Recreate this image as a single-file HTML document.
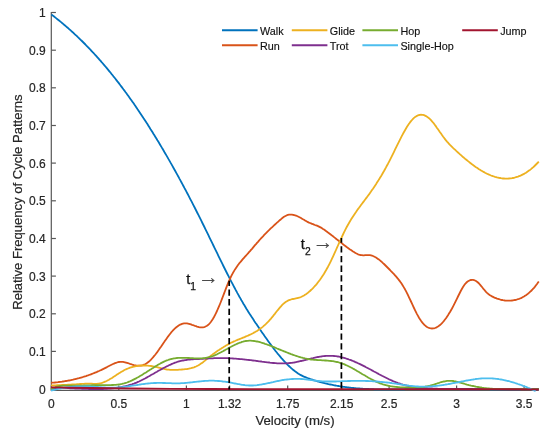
<!DOCTYPE html>
<html lang="en"><head><meta charset="utf-8"><title>Relative Frequency of Cycle Patterns</title>
<style>html,body{margin:0;padding:0;background:#fff}svg{display:block}</style></head>
<body>
<svg width="550" height="437" viewBox="0 0 550 437">
<rect width="550" height="437" fill="#fff"/>
<g stroke="#585858" stroke-width="1.2" fill="none">
<path d="M51.3 12.0 V390.3 H538.8"/>
<path d="M51.3 390.3 v-4.8"/>
<path d="M118.8 390.3 v-4.8"/>
<path d="M186.4 390.3 v-4.8"/>
<path d="M229.6 390.3 v-4.8"/>
<path d="M287.7 390.3 v-4.8"/>
<path d="M341.8 390.3 v-4.8"/>
<path d="M389.1 390.3 v-4.8"/>
<path d="M456.6 390.3 v-4.8"/>
<path d="M524.1 390.3 v-4.8"/>
<path d="M51.3 389.1 h4.6"/>
<path d="M51.3 351.4 h4.6"/>
<path d="M51.3 313.8 h4.6"/>
<path d="M51.3 276.1 h4.6"/>
<path d="M51.3 238.5 h4.6"/>
<path d="M51.3 200.8 h4.6"/>
<path d="M51.3 163.1 h4.6"/>
<path d="M51.3 125.5 h4.6"/>
<path d="M51.3 87.8 h4.6"/>
<path d="M51.3 50.2 h4.6"/>
<path d="M51.3 12.5 h4.6"/>
</g>
<g font-family="'Liberation Sans', Arial, Helvetica, sans-serif" fill="#262626" stroke="#262626" stroke-width="0.2" font-size="12">
<text x="51.3" y="408.2" text-anchor="middle">0</text>
<text x="118.8" y="408.2" text-anchor="middle">0.5</text>
<text x="186.4" y="408.2" text-anchor="middle">1</text>
<text x="229.6" y="408.2" text-anchor="middle">1.32</text>
<text x="287.7" y="408.2" text-anchor="middle">1.75</text>
<text x="341.8" y="408.2" text-anchor="middle">2.15</text>
<text x="389.1" y="408.2" text-anchor="middle">2.5</text>
<text x="456.6" y="408.2" text-anchor="middle">3</text>
<text x="524.1" y="408.2" text-anchor="middle">3.5</text>
<text x="45.7" y="393.7" text-anchor="end">0</text>
<text x="45.7" y="356.0" text-anchor="end">0.1</text>
<text x="45.7" y="318.4" text-anchor="end">0.2</text>
<text x="45.7" y="280.7" text-anchor="end">0.3</text>
<text x="45.7" y="243.1" text-anchor="end">0.4</text>
<text x="45.7" y="205.4" text-anchor="end">0.5</text>
<text x="45.7" y="167.7" text-anchor="end">0.6</text>
<text x="45.7" y="130.1" text-anchor="end">0.7</text>
<text x="45.7" y="92.4" text-anchor="end">0.8</text>
<text x="45.7" y="54.8" text-anchor="end">0.9</text>
<text x="45.7" y="17.1" text-anchor="end">1</text>
</g>
<g font-family="'Liberation Sans', Arial, Helvetica, sans-serif" fill="#262626" stroke="#262626" stroke-width="0.2" font-size="13.2">
<text x="295" y="425.3" text-anchor="middle">Velocity (m/s)</text>
<text transform="translate(22.3 202.1) rotate(-90)" text-anchor="middle" font-size="13.05">Relative Frequency of Cycle Patterns</text>
</g>
<g fill="none" stroke-width="1.8" stroke-linejoin="round" stroke-linecap="butt">
<path d="M51.4 14.5 L52.4 15.3 L53.4 16.0 L54.4 16.8 L55.4 17.6 L56.4 18.4 L57.4 19.2 L58.4 20.0 L59.4 20.8 L60.4 21.6 L61.4 22.4 L62.4 23.3 L63.4 24.1 L64.4 25.0 L65.4 25.8 L66.4 26.7 L67.4 27.5 L68.4 28.4 L69.4 29.3 L70.4 30.2 L71.4 31.1 L72.4 32.0 L73.4 32.9 L74.4 33.9 L75.4 34.8 L76.4 35.7 L77.4 36.7 L78.4 37.6 L79.4 38.6 L80.4 39.6 L81.4 40.5 L82.4 41.5 L83.4 42.5 L84.4 43.5 L85.4 44.5 L86.4 45.6 L87.4 46.6 L88.4 47.6 L89.4 48.7 L90.4 49.7 L91.4 50.8 L92.4 51.9 L93.4 52.9 L94.4 54.0 L95.4 55.1 L96.4 56.2 L97.4 57.3 L98.4 58.4 L99.4 59.6 L100.4 60.7 L101.4 61.9 L102.4 63.0 L103.4 64.2 L104.4 65.3 L105.4 66.5 L106.4 67.7 L107.4 68.9 L108.4 70.1 L109.4 71.3 L110.4 72.5 L111.4 73.8 L112.4 75.0 L113.4 76.3 L114.4 77.5 L115.4 78.8 L116.4 80.1 L117.4 81.4 L118.4 82.6 L119.4 83.9 L120.4 85.3 L121.4 86.6 L122.4 87.9 L123.4 89.3 L124.4 90.6 L125.4 92.0 L126.4 93.3 L127.4 94.7 L128.4 96.1 L129.4 97.5 L130.4 98.9 L131.4 100.3 L132.4 101.7 L133.4 103.1 L134.4 104.6 L135.4 106.0 L136.4 107.5 L137.4 109.0 L138.4 110.4 L139.4 111.9 L140.4 113.4 L141.4 114.9 L142.4 116.4 L143.4 118.0 L144.4 119.5 L145.4 121.0 L146.4 122.6 L147.4 124.1 L148.4 125.7 L149.4 127.3 L150.4 128.9 L151.4 130.4 L152.4 132.0 L153.4 133.7 L154.4 135.3 L155.4 136.9 L156.4 138.5 L157.4 140.2 L158.4 141.8 L159.4 143.5 L160.4 145.2 L161.4 146.9 L162.4 148.6 L163.4 150.2 L164.4 152.0 L165.4 153.7 L166.4 155.4 L167.4 157.1 L168.4 158.9 L169.4 160.6 L170.4 162.4 L171.4 164.1 L172.4 165.9 L173.4 167.7 L174.4 169.5 L175.4 171.3 L176.4 173.1 L177.4 174.9 L178.4 176.7 L179.4 178.6 L180.4 180.4 L181.4 182.3 L182.4 184.1 L183.4 186.0 L184.4 187.9 L185.4 189.7 L186.4 191.6 L187.4 193.5 L188.4 195.4 L189.4 197.3 L190.4 199.3 L191.4 201.2 L192.4 203.1 L193.4 205.1 L194.4 207.0 L195.4 209.0 L196.4 211.0 L197.4 213.0 L198.4 214.9 L199.4 216.9 L200.4 218.9 L201.4 220.9 L202.4 223.0 L203.4 225.0 L204.4 227.0 L205.4 229.1 L206.4 231.1 L207.4 233.1 L208.4 235.2 L209.4 237.3 L210.4 239.3 L211.4 241.4 L212.4 243.4 L213.4 245.5 L214.4 247.6 L215.4 249.6 L216.4 251.7 L217.4 253.7 L218.4 255.8 L219.4 257.8 L220.4 259.9 L221.4 261.9 L222.4 263.9 L223.4 266.0 L224.4 268.0 L225.4 270.0 L226.4 272.0 L227.4 274.0 L228.4 275.9 L229.4 277.9 L230.4 279.8 L231.4 281.8 L232.4 283.7 L233.4 285.6 L234.4 287.5 L235.4 289.4 L236.4 291.2 L237.4 293.1 L238.4 294.9 L239.4 296.7 L240.4 298.4 L241.4 300.2 L242.4 301.9 L243.4 303.7 L244.4 305.3 L245.4 307.0 L246.4 308.7 L247.4 310.3 L248.4 311.9 L249.4 313.5 L250.4 315.0 L251.4 316.6 L252.4 318.1 L253.4 319.6 L254.4 321.2 L255.4 322.7 L256.4 324.1 L257.4 325.6 L258.4 327.1 L259.4 328.6 L260.4 330.0 L261.4 331.5 L262.4 332.9 L263.4 334.3 L264.4 335.8 L265.4 337.2 L266.4 338.6 L267.4 340.0 L268.4 341.4 L269.4 342.8 L270.4 344.1 L271.4 345.5 L272.4 346.8 L273.4 348.2 L274.4 349.5 L275.4 350.8 L276.4 352.0 L277.4 353.3 L278.4 354.5 L279.4 355.7 L280.4 356.9 L281.4 358.1 L282.4 359.2 L283.4 360.3 L284.4 361.4 L285.4 362.5 L286.4 363.5 L287.4 364.6 L288.4 365.5 L289.4 366.5 L290.4 367.4 L291.4 368.3 L292.4 369.2 L293.4 370.0 L294.4 370.8 L295.4 371.6 L296.4 372.3 L297.4 373.0 L298.4 373.7 L299.4 374.3 L300.4 374.9 L301.4 375.4 L302.4 375.9 L303.4 376.4 L304.4 376.8 L305.4 377.2 L306.4 377.6 L307.4 378.0 L308.4 378.4 L309.4 378.7 L310.4 379.1 L311.4 379.4 L312.4 379.7 L313.4 380.0 L314.4 380.4 L315.4 380.7 L316.4 381.0 L317.4 381.3 L318.4 381.5 L319.4 381.8 L320.4 382.1 L321.4 382.4 L322.4 382.6 L323.4 382.9 L324.4 383.1 L325.4 383.4 L326.4 383.6 L327.4 383.8 L328.4 384.1 L329.4 384.3 L330.4 384.5 L331.4 384.7 L332.4 384.9 L333.4 385.1 L334.4 385.3 L335.4 385.5 L336.4 385.7 L337.4 385.8 L338.4 386.0 L339.4 386.2 L340.4 386.3 L341.4 386.5 L342.4 386.6 L343.4 386.8 L344.4 386.9 L345.4 387.1 L346.4 387.2 L347.4 387.3 L348.4 387.4 L349.4 387.6 L350.4 387.7 L351.4 387.8 L352.4 387.9 L353.4 388.0 L354.4 388.1 L355.4 388.2 L356.4 388.3 L357.4 388.3 L358.4 388.4 L359.4 388.5 L360.4 388.6 L361.4 388.7 L362.4 388.7 L363.4 388.8 L364.4 388.8 L365.4 388.9 L366.4 389.0 L367.4 389.0 L368.4 389.0 L369.4 389.1 L370.4 389.1 L371.4 389.2 L372.4 389.2 L373.4 389.2 L374.4 389.3 L375.4 389.3 L376.4 389.3 L377.4 389.3 L378.4 389.4 L379.4 389.4 L380.4 389.4 L381.4 389.4 L382.4 389.4 L383.4 389.4 L384.4 389.4 L385.4 389.4 L386.4 389.4 L387.4 389.4 L388.4 389.4 L389.4 389.4 L390.4 389.4 L391.4 389.4 L392.4 389.4 L393.4 389.4 L394.4 389.4 L395.4 389.4 L396.4 389.4 L397.4 389.4 L398.4 389.4 L399.4 389.3 L400.4 389.3 L401.4 389.3 L402.4 389.3 L403.4 389.3 L404.4 389.3 L405.4 389.2 L406.4 389.2 L407.4 389.2 L408.4 389.2 L409.4 389.2 L410.4 389.1 L411.4 389.1 L412.4 389.1 L413.4 389.1 L414.4 389.1 L415.4 389.0 L416.4 389.0 L417.4 389.0 L418.4 389.0 L419.4 389.0 L420.4 388.9 L421.4 388.9 L422.4 388.9 L423.4 388.9 L424.4 388.9 L425.4 388.9 L426.4 388.8 L427.4 388.8 L428.4 388.8 L429.4 388.8 L430.4 388.8 L431.4 388.8 L432.4 388.8 L433.4 388.8 L434.4 388.8 L435.4 388.8 L436.4 388.8 L437.4 388.8 L438.4 388.8 L439.4 388.8 L440.4 388.8 L441.4 388.8 L442.4 388.8 L443.4 388.8 L444.4 388.8 L445.4 388.8 L446.4 388.8 L447.4 388.8 L448.4 388.8 L449.4 388.8 L450.4 388.8 L451.4 388.8 L452.4 388.8 L453.4 388.8 L454.4 388.8 L455.4 388.8 L456.4 388.8 L457.4 388.9 L458.4 388.9 L459.4 388.9 L460.4 388.9 L461.4 388.9 L462.4 388.9 L463.4 388.9 L464.4 388.9 L465.4 388.9 L466.4 389.0 L467.4 389.0 L468.4 389.0 L469.4 389.0 L470.4 389.0 L471.4 389.0 L472.4 389.0 L473.4 389.1 L474.4 389.1 L475.4 389.1 L476.4 389.1 L477.4 389.1 L478.4 389.1 L479.4 389.1 L480.4 389.1 L481.4 389.2 L482.4 389.2 L483.4 389.2 L484.4 389.2 L485.4 389.2 L486.4 389.2 L487.4 389.2 L488.4 389.2 L489.4 389.2 L490.4 389.3 L491.4 389.3 L492.4 389.3 L493.4 389.3 L494.4 389.3 L495.4 389.3 L496.4 389.3 L497.4 389.3 L498.4 389.3 L499.4 389.3 L500.4 389.3 L501.4 389.3 L502.4 389.3 L503.4 389.3 L504.4 389.3 L505.4 389.3 L506.4 389.3 L507.4 389.3 L508.4 389.3 L509.4 389.3 L510.4 389.3 L511.4 389.3 L512.4 389.3 L513.4 389.3 L514.4 389.3 L515.4 389.3 L516.4 389.3 L517.4 389.3 L518.4 389.3 L519.4 389.3 L520.4 389.3 L521.4 389.2 L522.4 389.2 L523.4 389.2 L524.4 389.2 L525.4 389.2 L526.4 389.2 L527.4 389.1 L528.4 389.1 L529.4 389.1 L530.4 389.1 L531.4 389.0 L532.4 389.0 L533.4 389.0 L534.4 388.9 L535.4 388.9 L536.4 388.9 L537.4 388.8 L538.4 388.8 L538.8 388.8" stroke="#0072BD"/>
<path d="M51.0 382.8 L52.0 382.7 L53.0 382.6 L54.0 382.6 L55.0 382.5 L56.0 382.4 L57.0 382.3 L58.0 382.2 L59.0 382.0 L60.0 381.9 L61.0 381.8 L62.0 381.7 L63.0 381.5 L64.0 381.4 L65.0 381.2 L66.0 381.0 L67.0 380.9 L68.0 380.7 L69.0 380.5 L70.0 380.3 L71.0 380.1 L72.0 379.9 L73.0 379.7 L74.0 379.4 L75.0 379.2 L76.0 379.0 L77.0 378.7 L78.0 378.4 L79.0 378.2 L80.0 377.9 L81.0 377.6 L82.0 377.3 L83.0 377.0 L84.0 376.7 L85.0 376.4 L86.0 376.1 L87.0 375.7 L88.0 375.4 L89.0 375.0 L90.0 374.7 L91.0 374.3 L92.0 373.9 L93.0 373.5 L94.0 373.1 L95.0 372.7 L96.0 372.3 L97.0 371.9 L98.0 371.4 L99.0 371.0 L100.0 370.5 L101.0 370.1 L102.0 369.6 L103.0 369.1 L104.0 368.6 L105.0 368.1 L106.0 367.6 L107.0 367.1 L108.0 366.5 L109.0 366.0 L110.0 365.5 L111.0 365.0 L112.0 364.5 L113.0 364.0 L114.0 363.6 L115.0 363.2 L116.0 362.8 L117.0 362.5 L118.0 362.2 L119.0 362.0 L120.0 361.9 L121.0 361.8 L122.0 361.9 L123.0 361.9 L124.0 362.1 L125.0 362.3 L126.0 362.6 L127.0 362.9 L128.0 363.2 L129.0 363.5 L130.0 363.9 L131.0 364.2 L132.0 364.5 L133.0 364.8 L134.0 365.1 L135.0 365.3 L136.0 365.5 L137.0 365.6 L138.0 365.7 L139.0 365.7 L140.0 365.7 L141.0 365.6 L142.0 365.4 L143.0 365.1 L144.0 364.7 L145.0 364.3 L146.0 363.7 L147.0 363.1 L148.0 362.3 L149.0 361.5 L150.0 360.6 L151.0 359.6 L152.0 358.5 L153.0 357.4 L154.0 356.2 L155.0 355.0 L156.0 353.7 L157.0 352.4 L158.0 351.0 L159.0 349.6 L160.0 348.1 L161.0 346.7 L162.0 345.2 L163.0 343.7 L164.0 342.3 L165.0 340.8 L166.0 339.4 L167.0 338.0 L168.0 336.6 L169.0 335.3 L170.0 334.0 L171.0 332.7 L172.0 331.5 L173.0 330.4 L174.0 329.4 L175.0 328.4 L176.0 327.5 L177.0 326.7 L178.0 326.0 L179.0 325.3 L180.0 324.7 L181.0 324.3 L182.0 323.9 L183.0 323.6 L184.0 323.4 L185.0 323.3 L186.0 323.3 L187.0 323.4 L188.0 323.6 L189.0 323.8 L190.0 324.1 L191.0 324.4 L192.0 324.8 L193.0 325.1 L194.0 325.5 L195.0 325.9 L196.0 326.2 L197.0 326.6 L198.0 326.8 L199.0 327.1 L200.0 327.3 L201.0 327.3 L202.0 327.4 L203.0 327.3 L204.0 327.1 L205.0 326.8 L206.0 326.3 L207.0 325.7 L208.0 325.0 L209.0 324.1 L210.0 323.0 L211.0 321.7 L212.0 320.3 L213.0 318.7 L214.0 317.0 L215.0 315.1 L216.0 313.1 L217.0 311.0 L218.0 308.7 L219.0 306.4 L220.0 304.0 L221.0 301.5 L222.0 298.9 L223.0 296.3 L224.0 293.6 L225.0 291.0 L226.0 288.4 L227.0 285.9 L228.0 283.4 L229.0 281.0 L230.0 278.8 L231.0 276.7 L232.0 274.7 L233.0 272.8 L234.0 271.1 L235.0 269.4 L236.0 267.9 L237.0 266.4 L238.0 265.0 L239.0 263.7 L240.0 262.5 L241.0 261.3 L242.0 260.1 L243.0 258.9 L244.0 257.8 L245.0 256.7 L246.0 255.6 L247.0 254.5 L248.0 253.4 L249.0 252.2 L250.0 251.1 L251.0 249.9 L252.0 248.8 L253.0 247.6 L254.0 246.4 L255.0 245.2 L256.0 244.1 L257.0 242.9 L258.0 241.8 L259.0 240.6 L260.0 239.5 L261.0 238.4 L262.0 237.3 L263.0 236.3 L264.0 235.2 L265.0 234.2 L266.0 233.2 L267.0 232.1 L268.0 231.1 L269.0 230.2 L270.0 229.2 L271.0 228.2 L272.0 227.3 L273.0 226.4 L274.0 225.4 L275.0 224.5 L276.0 223.6 L277.0 222.7 L278.0 221.8 L279.0 220.9 L280.0 220.0 L281.0 219.2 L282.0 218.3 L283.0 217.5 L284.0 216.8 L285.0 216.2 L286.0 215.7 L287.0 215.2 L288.0 214.9 L289.0 214.7 L290.0 214.6 L291.0 214.6 L292.0 214.6 L293.0 214.8 L294.0 215.0 L295.0 215.3 L296.0 215.6 L297.0 216.0 L298.0 216.5 L299.0 217.0 L300.0 217.5 L301.0 218.1 L302.0 218.7 L303.0 219.3 L304.0 219.8 L305.0 220.4 L306.0 221.0 L307.0 221.6 L308.0 222.1 L309.0 222.6 L310.0 223.0 L311.0 223.4 L312.0 223.8 L313.0 224.2 L314.0 224.6 L315.0 225.0 L316.0 225.3 L317.0 225.7 L318.0 226.1 L319.0 226.6 L320.0 227.1 L321.0 227.6 L322.0 228.2 L323.0 228.9 L324.0 229.5 L325.0 230.2 L326.0 231.0 L327.0 231.7 L328.0 232.5 L329.0 233.2 L330.0 234.0 L331.0 234.8 L332.0 235.6 L333.0 236.3 L334.0 237.1 L335.0 237.9 L336.0 238.7 L337.0 239.5 L338.0 240.2 L339.0 241.0 L340.0 241.8 L341.0 242.6 L342.0 243.4 L343.0 244.2 L344.0 245.0 L345.0 245.7 L346.0 246.5 L347.0 247.3 L348.0 248.0 L349.0 248.7 L350.0 249.5 L351.0 250.1 L352.0 250.8 L353.0 251.5 L354.0 252.1 L355.0 252.7 L356.0 253.3 L357.0 253.8 L358.0 254.3 L359.0 254.7 L360.0 255.0 L361.0 255.1 L362.0 255.2 L363.0 255.3 L364.0 255.3 L365.0 255.2 L366.0 255.1 L367.0 255.1 L368.0 255.1 L369.0 255.1 L370.0 255.2 L371.0 255.4 L372.0 255.7 L373.0 256.0 L374.0 256.5 L375.0 257.0 L376.0 257.5 L377.0 258.2 L378.0 258.9 L379.0 259.6 L380.0 260.4 L381.0 261.3 L382.0 262.1 L383.0 263.1 L384.0 264.0 L385.0 265.0 L386.0 266.0 L387.0 267.0 L388.0 268.0 L389.0 269.0 L390.0 270.0 L391.0 271.1 L392.0 272.1 L393.0 273.2 L394.0 274.2 L395.0 275.3 L396.0 276.4 L397.0 277.6 L398.0 278.8 L399.0 280.1 L400.0 281.4 L401.0 282.8 L402.0 284.3 L403.0 285.9 L404.0 287.6 L405.0 289.3 L406.0 291.2 L407.0 293.1 L408.0 295.2 L409.0 297.3 L410.0 299.4 L411.0 301.5 L412.0 303.7 L413.0 305.9 L414.0 308.0 L415.0 310.1 L416.0 312.1 L417.0 314.1 L418.0 315.9 L419.0 317.7 L420.0 319.3 L421.0 320.8 L422.0 322.2 L423.0 323.4 L424.0 324.5 L425.0 325.4 L426.0 326.2 L427.0 326.9 L428.0 327.5 L429.0 327.9 L430.0 328.2 L431.0 328.4 L432.0 328.5 L433.0 328.4 L434.0 328.3 L435.0 328.0 L436.0 327.6 L437.0 327.1 L438.0 326.5 L439.0 325.8 L440.0 325.0 L441.0 324.1 L442.0 323.1 L443.0 322.0 L444.0 320.8 L445.0 319.5 L446.0 318.2 L447.0 316.7 L448.0 315.2 L449.0 313.6 L450.0 312.0 L451.0 310.2 L452.0 308.5 L453.0 306.6 L454.0 304.7 L455.0 302.7 L456.0 300.6 L457.0 298.6 L458.0 296.5 L459.0 294.5 L460.0 292.5 L461.0 290.5 L462.0 288.7 L463.0 287.0 L464.0 285.5 L465.0 284.1 L466.0 283.0 L467.0 282.0 L468.0 281.3 L469.0 280.7 L470.0 280.2 L471.0 280.0 L472.0 279.9 L473.0 279.9 L474.0 280.1 L475.0 280.5 L476.0 281.0 L477.0 281.7 L478.0 282.5 L479.0 283.5 L480.0 284.6 L481.0 285.8 L482.0 287.0 L483.0 288.3 L484.0 289.5 L485.0 290.7 L486.0 291.8 L487.0 292.8 L488.0 293.7 L489.0 294.5 L490.0 295.2 L491.0 295.8 L492.0 296.4 L493.0 296.9 L494.0 297.4 L495.0 297.8 L496.0 298.2 L497.0 298.6 L498.0 298.9 L499.0 299.2 L500.0 299.5 L501.0 299.8 L502.0 300.0 L503.0 300.2 L504.0 300.3 L505.0 300.5 L506.0 300.6 L507.0 300.6 L508.0 300.7 L509.0 300.7 L510.0 300.7 L511.0 300.6 L512.0 300.5 L513.0 300.4 L514.0 300.2 L515.0 300.0 L516.0 299.8 L517.0 299.5 L518.0 299.2 L519.0 298.9 L520.0 298.5 L521.0 298.1 L522.0 297.6 L523.0 297.0 L524.0 296.5 L525.0 295.8 L526.0 295.2 L527.0 294.4 L528.0 293.7 L529.0 292.8 L530.0 291.9 L531.0 291.0 L532.0 290.0 L533.0 288.9 L534.0 287.8 L535.0 286.6 L536.0 285.3 L537.0 284.0 L538.0 282.6 L538.8 281.5" stroke="#D95319"/>
<path d="M51.0 385.5 L52.0 385.5 L53.0 385.4 L54.0 385.4 L55.0 385.3 L56.0 385.3 L57.0 385.2 L58.0 385.2 L59.0 385.1 L60.0 385.1 L61.0 385.1 L62.0 385.0 L63.0 385.0 L64.0 384.9 L65.0 384.9 L66.0 384.8 L67.0 384.8 L68.0 384.7 L69.0 384.7 L70.0 384.6 L71.0 384.6 L72.0 384.5 L73.0 384.5 L74.0 384.4 L75.0 384.3 L76.0 384.3 L77.0 384.2 L78.0 384.2 L79.0 384.1 L80.0 384.0 L81.0 384.0 L82.0 383.9 L83.0 383.8 L84.0 383.8 L85.0 383.7 L86.0 383.7 L87.0 383.7 L88.0 383.7 L89.0 383.7 L90.0 383.7 L91.0 383.7 L92.0 383.7 L93.0 383.8 L94.0 383.8 L95.0 383.8 L96.0 383.8 L97.0 383.8 L98.0 383.7 L99.0 383.6 L100.0 383.4 L101.0 383.2 L102.0 382.9 L103.0 382.5 L104.0 382.1 L105.0 381.7 L106.0 381.3 L107.0 380.8 L108.0 380.2 L109.0 379.7 L110.0 379.1 L111.0 378.5 L112.0 377.9 L113.0 377.2 L114.0 376.6 L115.0 375.9 L116.0 375.3 L117.0 374.6 L118.0 373.9 L119.0 373.3 L120.0 372.7 L121.0 372.1 L122.0 371.5 L123.0 370.9 L124.0 370.3 L125.0 369.8 L126.0 369.3 L127.0 368.9 L128.0 368.5 L129.0 368.1 L130.0 367.7 L131.0 367.4 L132.0 367.1 L133.0 366.8 L134.0 366.5 L135.0 366.3 L136.0 366.1 L137.0 366.0 L138.0 365.8 L139.0 365.7 L140.0 365.6 L141.0 365.5 L142.0 365.5 L143.0 365.5 L144.0 365.5 L145.0 365.5 L146.0 365.5 L147.0 365.6 L148.0 365.7 L149.0 365.8 L150.0 365.9 L151.0 366.0 L152.0 366.2 L153.0 366.4 L154.0 366.6 L155.0 366.8 L156.0 367.0 L157.0 367.2 L158.0 367.5 L159.0 367.7 L160.0 368.0 L161.0 368.2 L162.0 368.5 L163.0 368.7 L164.0 368.9 L165.0 369.1 L166.0 369.3 L167.0 369.5 L168.0 369.6 L169.0 369.7 L170.0 369.8 L171.0 369.9 L172.0 369.9 L173.0 369.9 L174.0 369.9 L175.0 369.9 L176.0 369.9 L177.0 369.8 L178.0 369.8 L179.0 369.7 L180.0 369.6 L181.0 369.6 L182.0 369.5 L183.0 369.4 L184.0 369.3 L185.0 369.2 L186.0 369.1 L187.0 369.0 L188.0 368.8 L189.0 368.6 L190.0 368.4 L191.0 368.2 L192.0 367.9 L193.0 367.6 L194.0 367.3 L195.0 366.9 L196.0 366.5 L197.0 366.0 L198.0 365.5 L199.0 364.9 L200.0 364.3 L201.0 363.6 L202.0 362.9 L203.0 362.2 L204.0 361.4 L205.0 360.6 L206.0 359.7 L207.0 358.9 L208.0 358.1 L209.0 357.2 L210.0 356.4 L211.0 355.6 L212.0 354.9 L213.0 354.1 L214.0 353.4 L215.0 352.7 L216.0 352.0 L217.0 351.3 L218.0 350.6 L219.0 350.0 L220.0 349.3 L221.0 348.7 L222.0 348.0 L223.0 347.4 L224.0 346.8 L225.0 346.2 L226.0 345.6 L227.0 345.0 L228.0 344.4 L229.0 343.9 L230.0 343.3 L231.0 342.8 L232.0 342.3 L233.0 341.9 L234.0 341.4 L235.0 341.0 L236.0 340.5 L237.0 340.1 L238.0 339.7 L239.0 339.3 L240.0 338.9 L241.0 338.5 L242.0 338.1 L243.0 337.7 L244.0 337.3 L245.0 336.9 L246.0 336.4 L247.0 336.0 L248.0 335.6 L249.0 335.1 L250.0 334.7 L251.0 334.2 L252.0 333.7 L253.0 333.2 L254.0 332.6 L255.0 332.1 L256.0 331.5 L257.0 330.9 L258.0 330.2 L259.0 329.6 L260.0 328.9 L261.0 328.1 L262.0 327.4 L263.0 326.6 L264.0 325.7 L265.0 324.8 L266.0 323.9 L267.0 322.9 L268.0 321.9 L269.0 320.8 L270.0 319.7 L271.0 318.6 L272.0 317.3 L273.0 316.1 L274.0 314.8 L275.0 313.6 L276.0 312.3 L277.0 311.0 L278.0 309.8 L279.0 308.6 L280.0 307.4 L281.0 306.3 L282.0 305.2 L283.0 304.2 L284.0 303.3 L285.0 302.5 L286.0 301.8 L287.0 301.2 L288.0 300.6 L289.0 300.2 L290.0 299.8 L291.0 299.5 L292.0 299.2 L293.0 299.0 L294.0 298.8 L295.0 298.6 L296.0 298.4 L297.0 298.2 L298.0 298.0 L299.0 297.7 L300.0 297.4 L301.0 297.0 L302.0 296.5 L303.0 296.0 L304.0 295.5 L305.0 294.8 L306.0 294.2 L307.0 293.4 L308.0 292.7 L309.0 291.8 L310.0 291.0 L311.0 290.0 L312.0 289.1 L313.0 288.1 L314.0 287.0 L315.0 285.9 L316.0 284.8 L317.0 283.6 L318.0 282.3 L319.0 281.0 L320.0 279.7 L321.0 278.3 L322.0 276.8 L323.0 275.3 L324.0 273.7 L325.0 272.0 L326.0 270.3 L327.0 268.5 L328.0 266.7 L329.0 264.8 L330.0 262.8 L331.0 260.8 L332.0 258.7 L333.0 256.6 L334.0 254.4 L335.0 252.2 L336.0 250.0 L337.0 247.7 L338.0 245.5 L339.0 243.2 L340.0 241.0 L341.0 238.8 L342.0 236.6 L343.0 234.5 L344.0 232.4 L345.0 230.4 L346.0 228.4 L347.0 226.5 L348.0 224.7 L349.0 223.0 L350.0 221.3 L351.0 219.6 L352.0 218.0 L353.0 216.4 L354.0 214.9 L355.0 213.4 L356.0 212.0 L357.0 210.5 L358.0 209.1 L359.0 207.8 L360.0 206.4 L361.0 205.0 L362.0 203.7 L363.0 202.4 L364.0 201.1 L365.0 199.7 L366.0 198.4 L367.0 197.1 L368.0 195.7 L369.0 194.4 L370.0 193.0 L371.0 191.6 L372.0 190.1 L373.0 188.7 L374.0 187.2 L375.0 185.7 L376.0 184.2 L377.0 182.6 L378.0 181.1 L379.0 179.4 L380.0 177.8 L381.0 176.2 L382.0 174.5 L383.0 172.7 L384.0 171.0 L385.0 169.2 L386.0 167.4 L387.0 165.5 L388.0 163.7 L389.0 161.8 L390.0 159.8 L391.0 157.8 L392.0 155.8 L393.0 153.8 L394.0 151.8 L395.0 149.7 L396.0 147.7 L397.0 145.6 L398.0 143.6 L399.0 141.6 L400.0 139.6 L401.0 137.6 L402.0 135.7 L403.0 133.8 L404.0 132.0 L405.0 130.2 L406.0 128.5 L407.0 126.8 L408.0 125.3 L409.0 123.8 L410.0 122.4 L411.0 121.1 L412.0 120.0 L413.0 118.9 L414.0 117.9 L415.0 117.1 L416.0 116.4 L417.0 115.8 L418.0 115.4 L419.0 115.0 L420.0 114.8 L421.0 114.7 L422.0 114.8 L423.0 114.9 L424.0 115.2 L425.0 115.6 L426.0 116.1 L427.0 116.7 L428.0 117.4 L429.0 118.2 L430.0 119.1 L431.0 120.2 L432.0 121.3 L433.0 122.5 L434.0 123.7 L435.0 125.1 L436.0 126.4 L437.0 127.9 L438.0 129.3 L439.0 130.7 L440.0 132.2 L441.0 133.6 L442.0 135.1 L443.0 136.5 L444.0 137.8 L445.0 139.1 L446.0 140.4 L447.0 141.6 L448.0 142.7 L449.0 143.8 L450.0 144.9 L451.0 145.9 L452.0 146.9 L453.0 147.9 L454.0 148.8 L455.0 149.7 L456.0 150.7 L457.0 151.6 L458.0 152.5 L459.0 153.4 L460.0 154.3 L461.0 155.2 L462.0 156.1 L463.0 157.0 L464.0 157.8 L465.0 158.7 L466.0 159.5 L467.0 160.3 L468.0 161.1 L469.0 161.9 L470.0 162.7 L471.0 163.5 L472.0 164.3 L473.0 165.0 L474.0 165.7 L475.0 166.5 L476.0 167.2 L477.0 167.8 L478.0 168.5 L479.0 169.2 L480.0 169.8 L481.0 170.4 L482.0 171.0 L483.0 171.6 L484.0 172.1 L485.0 172.7 L486.0 173.2 L487.0 173.7 L488.0 174.2 L489.0 174.6 L490.0 175.0 L491.0 175.5 L492.0 175.8 L493.0 176.2 L494.0 176.5 L495.0 176.9 L496.0 177.1 L497.0 177.4 L498.0 177.6 L499.0 177.9 L500.0 178.0 L501.0 178.2 L502.0 178.3 L503.0 178.5 L504.0 178.5 L505.0 178.6 L506.0 178.6 L507.0 178.6 L508.0 178.6 L509.0 178.5 L510.0 178.4 L511.0 178.3 L512.0 178.2 L513.0 178.0 L514.0 177.8 L515.0 177.5 L516.0 177.2 L517.0 176.9 L518.0 176.6 L519.0 176.2 L520.0 175.8 L521.0 175.4 L522.0 174.9 L523.0 174.4 L524.0 173.9 L525.0 173.3 L526.0 172.7 L527.0 172.0 L528.0 171.3 L529.0 170.6 L530.0 169.9 L531.0 169.1 L532.0 168.2 L533.0 167.4 L534.0 166.5 L535.0 165.5 L536.0 164.5 L537.0 163.5 L538.0 162.5 L538.8 161.6" stroke="#EDB120"/>
<path d="M51.0 388.2 L52.0 388.1 L53.0 388.1 L54.0 388.1 L55.0 388.1 L56.0 388.0 L57.0 388.0 L58.0 388.0 L59.0 388.0 L60.0 388.0 L61.0 388.1 L62.0 388.1 L63.0 388.1 L64.0 388.1 L65.0 388.1 L66.0 388.2 L67.0 388.2 L68.0 388.2 L69.0 388.2 L70.0 388.3 L71.0 388.3 L72.0 388.4 L73.0 388.4 L74.0 388.4 L75.0 388.5 L76.0 388.5 L77.0 388.6 L78.0 388.6 L79.0 388.6 L80.0 388.7 L81.0 388.7 L82.0 388.8 L83.0 388.8 L84.0 388.8 L85.0 388.9 L86.0 388.9 L87.0 388.9 L88.0 388.9 L89.0 389.0 L90.0 389.0 L91.0 389.0 L92.0 389.0 L93.0 389.0 L94.0 389.1 L95.0 389.1 L96.0 389.1 L97.0 389.1 L98.0 389.1 L99.0 389.0 L100.0 389.0 L101.0 389.0 L102.0 389.0 L103.0 389.0 L104.0 388.9 L105.0 388.9 L106.0 388.8 L107.0 388.8 L108.0 388.7 L109.0 388.6 L110.0 388.6 L111.0 388.5 L112.0 388.4 L113.0 388.3 L114.0 388.2 L115.0 388.0 L116.0 387.9 L117.0 387.8 L118.0 387.6 L119.0 387.5 L120.0 387.3 L121.0 387.1 L122.0 386.9 L123.0 386.7 L124.0 386.5 L125.0 386.3 L126.0 386.0 L127.0 385.8 L128.0 385.5 L129.0 385.2 L130.0 384.9 L131.0 384.6 L132.0 384.3 L133.0 383.9 L134.0 383.6 L135.0 383.2 L136.0 382.8 L137.0 382.4 L138.0 381.9 L139.0 381.5 L140.0 381.0 L141.0 380.5 L142.0 380.0 L143.0 379.5 L144.0 379.0 L145.0 378.5 L146.0 377.9 L147.0 377.4 L148.0 376.8 L149.0 376.3 L150.0 375.7 L151.0 375.1 L152.0 374.5 L153.0 374.0 L154.0 373.4 L155.0 372.8 L156.0 372.2 L157.0 371.7 L158.0 371.1 L159.0 370.5 L160.0 370.0 L161.0 369.4 L162.0 368.9 L163.0 368.3 L164.0 367.8 L165.0 367.3 L166.0 366.7 L167.0 366.2 L168.0 365.8 L169.0 365.3 L170.0 364.8 L171.0 364.4 L172.0 363.9 L173.0 363.5 L174.0 363.1 L175.0 362.7 L176.0 362.4 L177.0 362.0 L178.0 361.7 L179.0 361.4 L180.0 361.1 L181.0 360.9 L182.0 360.7 L183.0 360.5 L184.0 360.3 L185.0 360.1 L186.0 360.0 L187.0 359.8 L188.0 359.7 L189.0 359.6 L190.0 359.5 L191.0 359.4 L192.0 359.3 L193.0 359.3 L194.0 359.2 L195.0 359.2 L196.0 359.1 L197.0 359.1 L198.0 359.0 L199.0 359.0 L200.0 358.9 L201.0 358.9 L202.0 358.8 L203.0 358.8 L204.0 358.7 L205.0 358.7 L206.0 358.6 L207.0 358.6 L208.0 358.5 L209.0 358.4 L210.0 358.4 L211.0 358.4 L212.0 358.3 L213.0 358.3 L214.0 358.2 L215.0 358.2 L216.0 358.2 L217.0 358.1 L218.0 358.1 L219.0 358.1 L220.0 358.1 L221.0 358.1 L222.0 358.1 L223.0 358.1 L224.0 358.1 L225.0 358.1 L226.0 358.2 L227.0 358.2 L228.0 358.2 L229.0 358.3 L230.0 358.3 L231.0 358.4 L232.0 358.4 L233.0 358.5 L234.0 358.6 L235.0 358.6 L236.0 358.7 L237.0 358.8 L238.0 358.9 L239.0 359.0 L240.0 359.1 L241.0 359.1 L242.0 359.2 L243.0 359.3 L244.0 359.4 L245.0 359.6 L246.0 359.7 L247.0 359.8 L248.0 359.9 L249.0 360.0 L250.0 360.1 L251.0 360.2 L252.0 360.4 L253.0 360.5 L254.0 360.6 L255.0 360.7 L256.0 360.9 L257.0 361.0 L258.0 361.1 L259.0 361.3 L260.0 361.4 L261.0 361.5 L262.0 361.7 L263.0 361.8 L264.0 361.9 L265.0 362.1 L266.0 362.2 L267.0 362.3 L268.0 362.4 L269.0 362.5 L270.0 362.7 L271.0 362.8 L272.0 362.9 L273.0 363.0 L274.0 363.0 L275.0 363.1 L276.0 363.2 L277.0 363.3 L278.0 363.3 L279.0 363.3 L280.0 363.4 L281.0 363.4 L282.0 363.4 L283.0 363.4 L284.0 363.4 L285.0 363.4 L286.0 363.3 L287.0 363.3 L288.0 363.2 L289.0 363.1 L290.0 363.0 L291.0 362.9 L292.0 362.8 L293.0 362.6 L294.0 362.5 L295.0 362.3 L296.0 362.1 L297.0 361.9 L298.0 361.7 L299.0 361.5 L300.0 361.2 L301.0 361.0 L302.0 360.8 L303.0 360.5 L304.0 360.3 L305.0 360.0 L306.0 359.8 L307.0 359.5 L308.0 359.3 L309.0 359.0 L310.0 358.8 L311.0 358.5 L312.0 358.3 L313.0 358.1 L314.0 357.8 L315.0 357.6 L316.0 357.4 L317.0 357.2 L318.0 357.0 L319.0 356.8 L320.0 356.6 L321.0 356.5 L322.0 356.3 L323.0 356.2 L324.0 356.1 L325.0 356.0 L326.0 355.9 L327.0 355.8 L328.0 355.8 L329.0 355.8 L330.0 355.8 L331.0 355.8 L332.0 355.8 L333.0 355.9 L334.0 356.0 L335.0 356.1 L336.0 356.2 L337.0 356.3 L338.0 356.5 L339.0 356.7 L340.0 356.9 L341.0 357.1 L342.0 357.4 L343.0 357.6 L344.0 357.9 L345.0 358.2 L346.0 358.5 L347.0 358.8 L348.0 359.1 L349.0 359.5 L350.0 359.8 L351.0 360.2 L352.0 360.6 L353.0 361.0 L354.0 361.4 L355.0 361.9 L356.0 362.3 L357.0 362.7 L358.0 363.2 L359.0 363.7 L360.0 364.1 L361.0 364.6 L362.0 365.1 L363.0 365.6 L364.0 366.1 L365.0 366.6 L366.0 367.2 L367.0 367.7 L368.0 368.2 L369.0 368.8 L370.0 369.3 L371.0 369.8 L372.0 370.4 L373.0 370.9 L374.0 371.5 L375.0 372.0 L376.0 372.5 L377.0 373.1 L378.0 373.6 L379.0 374.2 L380.0 374.7 L381.0 375.2 L382.0 375.8 L383.0 376.3 L384.0 376.8 L385.0 377.3 L386.0 377.8 L387.0 378.3 L388.0 378.8 L389.0 379.3 L390.0 379.7 L391.0 380.2 L392.0 380.6 L393.0 381.1 L394.0 381.5 L395.0 381.9 L396.0 382.3 L397.0 382.7 L398.0 383.1 L399.0 383.4 L400.0 383.7 L401.0 384.1 L402.0 384.4 L403.0 384.7 L404.0 384.9 L405.0 385.2 L406.0 385.4 L407.0 385.7 L408.0 385.9 L409.0 386.1 L410.0 386.3 L411.0 386.5 L412.0 386.7 L413.0 386.8 L414.0 387.0 L415.0 387.1 L416.0 387.3 L417.0 387.4 L418.0 387.5 L419.0 387.6 L420.0 387.7 L421.0 387.8 L422.0 387.9 L423.0 388.0 L424.0 388.0 L425.0 388.1 L426.0 388.2 L427.0 388.2 L428.0 388.3 L429.0 388.4 L430.0 388.4 L431.0 388.5 L432.0 388.5 L433.0 388.6 L434.0 388.6 L435.0 388.7 L436.0 388.7 L437.0 388.7 L438.0 388.8 L439.0 388.8 L440.0 388.9 L441.0 388.9 L442.0 388.9 L443.0 389.0 L444.0 389.0 L445.0 389.0 L446.0 389.0 L447.0 389.1 L448.0 389.1 L449.0 389.1 L450.0 389.1 L451.0 389.1 L452.0 389.2 L453.0 389.2 L454.0 389.2 L455.0 389.2 L456.0 389.2 L457.0 389.2 L458.0 389.2 L459.0 389.2 L460.0 389.3 L461.0 389.3 L462.0 389.3 L463.0 389.3 L464.0 389.3 L465.0 389.3 L466.0 389.3 L467.0 389.3 L468.0 389.3 L469.0 389.3 L470.0 389.3 L471.0 389.3 L472.0 389.3 L473.0 389.3 L474.0 389.3 L475.0 389.3 L476.0 389.3 L477.0 389.3 L478.0 389.3 L479.0 389.3 L480.0 389.2 L481.0 389.2 L482.0 389.2 L483.0 389.2 L484.0 389.2 L485.0 389.2 L486.0 389.2 L487.0 389.2 L488.0 389.2 L489.0 389.2 L490.0 389.2 L491.0 389.2 L492.0 389.2 L493.0 389.1 L494.0 389.1 L495.0 389.1 L496.0 389.1 L497.0 389.1 L498.0 389.1 L499.0 389.1 L500.0 389.1 L501.0 389.1 L502.0 389.1 L503.0 389.1 L504.0 389.1 L505.0 389.1 L506.0 389.1 L507.0 389.1 L508.0 389.0 L509.0 389.0 L510.0 389.0 L511.0 389.0 L512.0 389.0 L513.0 389.0 L514.0 389.0 L515.0 389.0 L516.0 389.0 L517.0 389.0 L518.0 389.0 L519.0 389.1 L520.0 389.1 L521.0 389.1 L522.0 389.1 L523.0 389.1 L524.0 389.1 L525.0 389.1 L526.0 389.1 L527.0 389.1 L528.0 389.1 L529.0 389.1 L530.0 389.2 L531.0 389.2 L532.0 389.2 L533.0 389.2 L534.0 389.2 L535.0 389.3 L536.0 389.3 L537.0 389.3 L538.0 389.3 L538.8 389.4" stroke="#7E2F8E"/>
<path d="M51.0 389.1 L52.0 388.6 L53.0 388.1 L54.0 387.6 L55.0 387.3 L56.0 386.9 L57.0 386.6 L58.0 386.4 L59.0 386.2 L60.0 386.0 L61.0 385.9 L62.0 385.8 L63.0 385.7 L64.0 385.6 L65.0 385.6 L66.0 385.6 L67.0 385.6 L68.0 385.6 L69.0 385.6 L70.0 385.6 L71.0 385.7 L72.0 385.7 L73.0 385.7 L74.0 385.7 L75.0 385.7 L76.0 385.7 L77.0 385.7 L78.0 385.7 L79.0 385.7 L80.0 385.6 L81.0 385.6 L82.0 385.6 L83.0 385.6 L84.0 385.5 L85.0 385.5 L86.0 385.4 L87.0 385.4 L88.0 385.4 L89.0 385.3 L90.0 385.3 L91.0 385.3 L92.0 385.2 L93.0 385.2 L94.0 385.2 L95.0 385.1 L96.0 385.1 L97.0 385.1 L98.0 385.1 L99.0 385.1 L100.0 385.1 L101.0 385.1 L102.0 385.1 L103.0 385.1 L104.0 385.1 L105.0 385.1 L106.0 385.1 L107.0 385.1 L108.0 385.1 L109.0 385.1 L110.0 385.1 L111.0 385.1 L112.0 385.0 L113.0 385.0 L114.0 384.9 L115.0 384.9 L116.0 384.8 L117.0 384.7 L118.0 384.6 L119.0 384.4 L120.0 384.3 L121.0 384.1 L122.0 383.9 L123.0 383.6 L124.0 383.4 L125.0 383.1 L126.0 382.8 L127.0 382.5 L128.0 382.1 L129.0 381.7 L130.0 381.3 L131.0 380.8 L132.0 380.4 L133.0 379.9 L134.0 379.4 L135.0 378.9 L136.0 378.4 L137.0 377.8 L138.0 377.3 L139.0 376.7 L140.0 376.1 L141.0 375.5 L142.0 374.9 L143.0 374.3 L144.0 373.6 L145.0 373.0 L146.0 372.4 L147.0 371.7 L148.0 371.1 L149.0 370.4 L150.0 369.8 L151.0 369.2 L152.0 368.5 L153.0 367.9 L154.0 367.2 L155.0 366.6 L156.0 366.0 L157.0 365.4 L158.0 364.8 L159.0 364.2 L160.0 363.7 L161.0 363.1 L162.0 362.6 L163.0 362.1 L164.0 361.6 L165.0 361.2 L166.0 360.7 L167.0 360.3 L168.0 360.0 L169.0 359.6 L170.0 359.3 L171.0 359.0 L172.0 358.8 L173.0 358.6 L174.0 358.4 L175.0 358.3 L176.0 358.1 L177.0 358.0 L178.0 357.9 L179.0 357.9 L180.0 357.8 L181.0 357.8 L182.0 357.8 L183.0 357.8 L184.0 357.8 L185.0 357.8 L186.0 357.9 L187.0 357.9 L188.0 358.0 L189.0 358.0 L190.0 358.1 L191.0 358.1 L192.0 358.2 L193.0 358.2 L194.0 358.3 L195.0 358.3 L196.0 358.3 L197.0 358.4 L198.0 358.4 L199.0 358.4 L200.0 358.4 L201.0 358.3 L202.0 358.3 L203.0 358.2 L204.0 358.1 L205.0 358.0 L206.0 357.8 L207.0 357.6 L208.0 357.4 L209.0 357.2 L210.0 356.9 L211.0 356.6 L212.0 356.3 L213.0 356.0 L214.0 355.6 L215.0 355.2 L216.0 354.7 L217.0 354.3 L218.0 353.8 L219.0 353.3 L220.0 352.8 L221.0 352.3 L222.0 351.7 L223.0 351.2 L224.0 350.6 L225.0 350.1 L226.0 349.5 L227.0 349.0 L228.0 348.4 L229.0 347.9 L230.0 347.3 L231.0 346.8 L232.0 346.2 L233.0 345.7 L234.0 345.2 L235.0 344.7 L236.0 344.3 L237.0 343.8 L238.0 343.4 L239.0 343.0 L240.0 342.6 L241.0 342.3 L242.0 341.9 L243.0 341.7 L244.0 341.4 L245.0 341.2 L246.0 341.0 L247.0 340.9 L248.0 340.8 L249.0 340.7 L250.0 340.7 L251.0 340.7 L252.0 340.8 L253.0 340.9 L254.0 341.0 L255.0 341.1 L256.0 341.3 L257.0 341.5 L258.0 341.7 L259.0 341.9 L260.0 342.2 L261.0 342.5 L262.0 342.8 L263.0 343.1 L264.0 343.4 L265.0 343.8 L266.0 344.1 L267.0 344.5 L268.0 344.9 L269.0 345.2 L270.0 345.6 L271.0 346.0 L272.0 346.4 L273.0 346.8 L274.0 347.2 L275.0 347.6 L276.0 348.0 L277.0 348.5 L278.0 348.9 L279.0 349.3 L280.0 349.7 L281.0 350.1 L282.0 350.5 L283.0 350.9 L284.0 351.3 L285.0 351.7 L286.0 352.1 L287.0 352.5 L288.0 352.9 L289.0 353.3 L290.0 353.7 L291.0 354.1 L292.0 354.4 L293.0 354.8 L294.0 355.2 L295.0 355.5 L296.0 355.8 L297.0 356.2 L298.0 356.5 L299.0 356.8 L300.0 357.1 L301.0 357.4 L302.0 357.6 L303.0 357.9 L304.0 358.1 L305.0 358.4 L306.0 358.6 L307.0 358.8 L308.0 359.0 L309.0 359.2 L310.0 359.3 L311.0 359.5 L312.0 359.6 L313.0 359.7 L314.0 359.8 L315.0 359.9 L316.0 359.9 L317.0 360.0 L318.0 360.1 L319.0 360.1 L320.0 360.2 L321.0 360.2 L322.0 360.3 L323.0 360.3 L324.0 360.4 L325.0 360.5 L326.0 360.5 L327.0 360.6 L328.0 360.7 L329.0 360.8 L330.0 360.9 L331.0 361.0 L332.0 361.1 L333.0 361.2 L334.0 361.4 L335.0 361.6 L336.0 361.8 L337.0 362.0 L338.0 362.2 L339.0 362.5 L340.0 362.8 L341.0 363.1 L342.0 363.4 L343.0 363.8 L344.0 364.2 L345.0 364.6 L346.0 365.1 L347.0 365.5 L348.0 366.0 L349.0 366.5 L350.0 367.0 L351.0 367.5 L352.0 368.0 L353.0 368.6 L354.0 369.1 L355.0 369.7 L356.0 370.3 L357.0 370.9 L358.0 371.5 L359.0 372.1 L360.0 372.7 L361.0 373.3 L362.0 373.9 L363.0 374.5 L364.0 375.0 L365.0 375.6 L366.0 376.2 L367.0 376.8 L368.0 377.4 L369.0 378.0 L370.0 378.5 L371.0 379.1 L372.0 379.6 L373.0 380.1 L374.0 380.6 L375.0 381.1 L376.0 381.6 L377.0 382.1 L378.0 382.5 L379.0 382.9 L380.0 383.3 L381.0 383.7 L382.0 384.0 L383.0 384.4 L384.0 384.7 L385.0 385.0 L386.0 385.2 L387.0 385.5 L388.0 385.7 L389.0 385.9 L390.0 386.1 L391.0 386.3 L392.0 386.4 L393.0 386.6 L394.0 386.7 L395.0 386.8 L396.0 386.9 L397.0 387.0 L398.0 387.1 L399.0 387.2 L400.0 387.3 L401.0 387.3 L402.0 387.4 L403.0 387.4 L404.0 387.4 L405.0 387.5 L406.0 387.5 L407.0 387.5 L408.0 387.5 L409.0 387.5 L410.0 387.5 L411.0 387.5 L412.0 387.5 L413.0 387.5 L414.0 387.5 L415.0 387.5 L416.0 387.4 L417.0 387.4 L418.0 387.4 L419.0 387.3 L420.0 387.2 L421.0 387.2 L422.0 387.1 L423.0 387.0 L424.0 386.8 L425.0 386.7 L426.0 386.5 L427.0 386.3 L428.0 386.1 L429.0 385.9 L430.0 385.7 L431.0 385.4 L432.0 385.1 L433.0 384.8 L434.0 384.5 L435.0 384.2 L436.0 383.8 L437.0 383.5 L438.0 383.2 L439.0 382.9 L440.0 382.5 L441.0 382.2 L442.0 382.0 L443.0 381.7 L444.0 381.5 L445.0 381.3 L446.0 381.1 L447.0 380.9 L448.0 380.8 L449.0 380.8 L450.0 380.8 L451.0 380.8 L452.0 380.9 L453.0 381.0 L454.0 381.2 L455.0 381.3 L456.0 381.5 L457.0 381.8 L458.0 382.0 L459.0 382.3 L460.0 382.5 L461.0 382.8 L462.0 383.1 L463.0 383.4 L464.0 383.7 L465.0 384.0 L466.0 384.3 L467.0 384.6 L468.0 384.8 L469.0 385.1 L470.0 385.3 L471.0 385.6 L472.0 385.8 L473.0 386.0 L474.0 386.2 L475.0 386.5 L476.0 386.7 L477.0 386.8 L478.0 387.0 L479.0 387.2 L480.0 387.4 L481.0 387.5 L482.0 387.7 L483.0 387.8 L484.0 388.0 L485.0 388.1 L486.0 388.2 L487.0 388.3 L488.0 388.4 L489.0 388.5 L490.0 388.6 L491.0 388.7 L492.0 388.7 L493.0 388.8 L494.0 388.8 L495.0 388.9 L496.0 388.9 L497.0 389.0 L498.0 389.0 L499.0 389.0 L500.0 389.1 L501.0 389.1 L502.0 389.1 L503.0 389.1 L504.0 389.1 L505.0 389.2 L506.0 389.2 L507.0 389.2 L508.0 389.2 L509.0 389.2 L510.0 389.2 L511.0 389.2 L512.0 389.2 L513.0 389.2 L514.0 389.2 L515.0 389.2 L516.0 389.2 L517.0 389.2 L518.0 389.2 L519.0 389.2 L520.0 389.2 L521.0 389.2 L522.0 389.2 L523.0 389.2 L524.0 389.2 L525.0 389.2 L526.0 389.2 L527.0 389.2 L528.0 389.2 L529.0 389.2 L530.0 389.2 L531.0 389.2 L532.0 389.2 L533.0 389.2 L534.0 389.2 L535.0 389.2 L536.0 389.2 L537.0 389.2 L538.0 389.2 L538.8 389.2" stroke="#77AC30"/>
<path d="M51.0 390.7 L52.0 390.4 L53.0 390.1 L54.0 389.9 L55.0 389.6 L56.0 389.4 L57.0 389.1 L58.0 388.9 L59.0 388.7 L60.0 388.5 L61.0 388.3 L62.0 388.1 L63.0 387.9 L64.0 387.8 L65.0 387.6 L66.0 387.5 L67.0 387.3 L68.0 387.2 L69.0 387.1 L70.0 387.0 L71.0 386.9 L72.0 386.8 L73.0 386.7 L74.0 386.7 L75.0 386.6 L76.0 386.5 L77.0 386.5 L78.0 386.5 L79.0 386.4 L80.0 386.4 L81.0 386.4 L82.0 386.4 L83.0 386.4 L84.0 386.4 L85.0 386.4 L86.0 386.4 L87.0 386.4 L88.0 386.5 L89.0 386.5 L90.0 386.5 L91.0 386.6 L92.0 386.6 L93.0 386.7 L94.0 386.7 L95.0 386.8 L96.0 386.9 L97.0 386.9 L98.0 387.0 L99.0 387.1 L100.0 387.1 L101.0 387.2 L102.0 387.3 L103.0 387.4 L104.0 387.4 L105.0 387.5 L106.0 387.6 L107.0 387.6 L108.0 387.7 L109.0 387.7 L110.0 387.7 L111.0 387.7 L112.0 387.7 L113.0 387.7 L114.0 387.7 L115.0 387.6 L116.0 387.6 L117.0 387.5 L118.0 387.5 L119.0 387.4 L120.0 387.3 L121.0 387.2 L122.0 387.1 L123.0 387.0 L124.0 386.8 L125.0 386.7 L126.0 386.6 L127.0 386.5 L128.0 386.3 L129.0 386.2 L130.0 386.0 L131.0 385.9 L132.0 385.7 L133.0 385.6 L134.0 385.4 L135.0 385.3 L136.0 385.1 L137.0 385.0 L138.0 384.8 L139.0 384.7 L140.0 384.5 L141.0 384.4 L142.0 384.2 L143.0 384.1 L144.0 384.0 L145.0 383.9 L146.0 383.7 L147.0 383.6 L148.0 383.5 L149.0 383.4 L150.0 383.3 L151.0 383.2 L152.0 383.2 L153.0 383.1 L154.0 383.0 L155.0 383.0 L156.0 383.0 L157.0 382.9 L158.0 382.9 L159.0 382.9 L160.0 382.9 L161.0 382.9 L162.0 382.9 L163.0 383.0 L164.0 383.0 L165.0 383.0 L166.0 383.1 L167.0 383.1 L168.0 383.1 L169.0 383.2 L170.0 383.2 L171.0 383.2 L172.0 383.3 L173.0 383.3 L174.0 383.3 L175.0 383.3 L176.0 383.3 L177.0 383.3 L178.0 383.3 L179.0 383.3 L180.0 383.3 L181.0 383.2 L182.0 383.2 L183.0 383.1 L184.0 383.1 L185.0 383.0 L186.0 382.9 L187.0 382.8 L188.0 382.7 L189.0 382.6 L190.0 382.5 L191.0 382.4 L192.0 382.3 L193.0 382.1 L194.0 382.0 L195.0 381.9 L196.0 381.8 L197.0 381.7 L198.0 381.6 L199.0 381.5 L200.0 381.4 L201.0 381.3 L202.0 381.2 L203.0 381.1 L204.0 381.0 L205.0 380.9 L206.0 380.9 L207.0 380.8 L208.0 380.8 L209.0 380.7 L210.0 380.7 L211.0 380.7 L212.0 380.7 L213.0 380.7 L214.0 380.7 L215.0 380.8 L216.0 380.8 L217.0 380.9 L218.0 381.0 L219.0 381.0 L220.0 381.1 L221.0 381.2 L222.0 381.3 L223.0 381.5 L224.0 381.6 L225.0 381.7 L226.0 381.9 L227.0 382.0 L228.0 382.2 L229.0 382.4 L230.0 382.5 L231.0 382.7 L232.0 382.9 L233.0 383.1 L234.0 383.3 L235.0 383.5 L236.0 383.7 L237.0 383.9 L238.0 384.1 L239.0 384.2 L240.0 384.4 L241.0 384.6 L242.0 384.8 L243.0 384.9 L244.0 385.0 L245.0 385.2 L246.0 385.3 L247.0 385.4 L248.0 385.4 L249.0 385.5 L250.0 385.5 L251.0 385.5 L252.0 385.5 L253.0 385.5 L254.0 385.4 L255.0 385.3 L256.0 385.3 L257.0 385.2 L258.0 385.0 L259.0 384.9 L260.0 384.7 L261.0 384.6 L262.0 384.4 L263.0 384.2 L264.0 384.0 L265.0 383.8 L266.0 383.6 L267.0 383.4 L268.0 383.2 L269.0 383.0 L270.0 382.8 L271.0 382.5 L272.0 382.3 L273.0 382.1 L274.0 381.8 L275.0 381.6 L276.0 381.4 L277.0 381.2 L278.0 381.0 L279.0 380.8 L280.0 380.6 L281.0 380.4 L282.0 380.2 L283.0 380.0 L284.0 379.9 L285.0 379.7 L286.0 379.6 L287.0 379.5 L288.0 379.4 L289.0 379.3 L290.0 379.2 L291.0 379.1 L292.0 379.0 L293.0 379.0 L294.0 378.9 L295.0 378.9 L296.0 378.9 L297.0 378.9 L298.0 378.9 L299.0 378.9 L300.0 378.9 L301.0 379.0 L302.0 379.0 L303.0 379.1 L304.0 379.2 L305.0 379.3 L306.0 379.4 L307.0 379.5 L308.0 379.7 L309.0 379.8 L310.0 379.9 L311.0 380.1 L312.0 380.2 L313.0 380.3 L314.0 380.5 L315.0 380.6 L316.0 380.7 L317.0 380.8 L318.0 380.9 L319.0 381.0 L320.0 381.1 L321.0 381.2 L322.0 381.3 L323.0 381.3 L324.0 381.4 L325.0 381.4 L326.0 381.5 L327.0 381.5 L328.0 381.5 L329.0 381.5 L330.0 381.5 L331.0 381.5 L332.0 381.5 L333.0 381.5 L334.0 381.5 L335.0 381.5 L336.0 381.5 L337.0 381.4 L338.0 381.4 L339.0 381.4 L340.0 381.3 L341.0 381.3 L342.0 381.2 L343.0 381.2 L344.0 381.2 L345.0 381.1 L346.0 381.1 L347.0 381.1 L348.0 381.0 L349.0 381.0 L350.0 381.0 L351.0 380.9 L352.0 380.9 L353.0 380.9 L354.0 380.9 L355.0 380.9 L356.0 380.9 L357.0 380.8 L358.0 380.8 L359.0 380.8 L360.0 380.9 L361.0 380.9 L362.0 380.9 L363.0 380.9 L364.0 380.9 L365.0 380.9 L366.0 381.0 L367.0 381.0 L368.0 381.0 L369.0 381.1 L370.0 381.1 L371.0 381.2 L372.0 381.2 L373.0 381.3 L374.0 381.3 L375.0 381.4 L376.0 381.5 L377.0 381.5 L378.0 381.6 L379.0 381.7 L380.0 381.8 L381.0 381.9 L382.0 382.0 L383.0 382.1 L384.0 382.2 L385.0 382.3 L386.0 382.4 L387.0 382.5 L388.0 382.6 L389.0 382.7 L390.0 382.9 L391.0 383.0 L392.0 383.2 L393.0 383.3 L394.0 383.4 L395.0 383.6 L396.0 383.7 L397.0 383.9 L398.0 384.1 L399.0 384.2 L400.0 384.4 L401.0 384.5 L402.0 384.7 L403.0 384.8 L404.0 385.0 L405.0 385.1 L406.0 385.3 L407.0 385.4 L408.0 385.5 L409.0 385.7 L410.0 385.8 L411.0 385.9 L412.0 386.0 L413.0 386.1 L414.0 386.2 L415.0 386.3 L416.0 386.4 L417.0 386.5 L418.0 386.5 L419.0 386.6 L420.0 386.6 L421.0 386.7 L422.0 386.7 L423.0 386.7 L424.0 386.7 L425.0 386.7 L426.0 386.6 L427.0 386.6 L428.0 386.6 L429.0 386.5 L430.0 386.4 L431.0 386.4 L432.0 386.3 L433.0 386.2 L434.0 386.1 L435.0 386.0 L436.0 385.9 L437.0 385.8 L438.0 385.7 L439.0 385.6 L440.0 385.4 L441.0 385.3 L442.0 385.1 L443.0 385.0 L444.0 384.8 L445.0 384.7 L446.0 384.5 L447.0 384.3 L448.0 384.2 L449.0 384.0 L450.0 383.8 L451.0 383.6 L452.0 383.4 L453.0 383.2 L454.0 383.0 L455.0 382.9 L456.0 382.7 L457.0 382.5 L458.0 382.3 L459.0 382.1 L460.0 381.9 L461.0 381.7 L462.0 381.5 L463.0 381.3 L464.0 381.1 L465.0 380.9 L466.0 380.7 L467.0 380.5 L468.0 380.3 L469.0 380.1 L470.0 380.0 L471.0 379.8 L472.0 379.6 L473.0 379.5 L474.0 379.3 L475.0 379.2 L476.0 379.0 L477.0 378.9 L478.0 378.8 L479.0 378.7 L480.0 378.6 L481.0 378.5 L482.0 378.4 L483.0 378.4 L484.0 378.3 L485.0 378.3 L486.0 378.3 L487.0 378.3 L488.0 378.3 L489.0 378.3 L490.0 378.3 L491.0 378.4 L492.0 378.4 L493.0 378.5 L494.0 378.6 L495.0 378.7 L496.0 378.8 L497.0 378.9 L498.0 379.0 L499.0 379.2 L500.0 379.3 L501.0 379.5 L502.0 379.7 L503.0 379.9 L504.0 380.1 L505.0 380.3 L506.0 380.5 L507.0 380.8 L508.0 381.0 L509.0 381.2 L510.0 381.5 L511.0 381.8 L512.0 382.1 L513.0 382.4 L514.0 382.7 L515.0 383.0 L516.0 383.3 L517.0 383.6 L518.0 384.0 L519.0 384.3 L520.0 384.7 L521.0 385.0 L522.0 385.4 L523.0 385.8 L524.0 386.1 L525.0 386.5 L526.0 386.9 L527.0 387.3 L528.0 387.8 L529.0 388.2 L530.0 388.6 L531.0 389.0 L532.0 389.5 L533.0 389.9 L534.0 390.4 L535.0 390.8 L535.6 391.1" stroke="#4DBEEE"/>
<path d="M51.0 387.3 L91.0 388.0 L131.0 388.5 L171.0 388.8 L211.0 389.0 L251.0 389.1 L291.0 389.2 L331.0 389.2 L371.0 389.1 L411.0 389.1 L451.0 389.1 L491.0 389.2 L531.0 389.3 L538.8 389.3" stroke="#A2142F"/>
</g>
<g stroke="#000" stroke-width="1.7" stroke-dasharray="6.3 3.4" fill="none">
<path d="M229.2 280.8 V389.6" stroke-dashoffset="1.1"/>
<path d="M341.4 238 V389.6" stroke-dashoffset="1.5"/>
</g>
<g font-family="'Liberation Sans', Arial, Helvetica, sans-serif" fill="#111" stroke="#111" stroke-width="0.25" font-size="14.67">
<text x="186.2" y="284.2">t<tspan font-size="10.3" dy="5.7">1</tspan><tspan x="197.9" y="283.8" font-size="21" fill="#4a4a4a" stroke="none">→</tspan></text>
<text x="300.8" y="249.0">t<tspan font-size="10.3" dy="5.7">2</tspan><tspan x="312.5" y="248.6" font-size="21" fill="#4a4a4a" stroke="none">→</tspan></text>
</g>
<g font-family="'Liberation Sans', Arial, Helvetica, sans-serif" fill="#111" stroke="#111" stroke-width="0.15" font-size="10.8">
<path d="M222.0 30.2 h35.6" stroke="#0072BD" stroke-width="2" fill="none"/>
<text x="260.0" y="35.0">Walk</text>
<path d="M222.0 45.2 h35.6" stroke="#D95319" stroke-width="2" fill="none"/>
<text x="260.0" y="50.0">Run</text>
<path d="M291.8 30.2 h35.6" stroke="#EDB120" stroke-width="2" fill="none"/>
<text x="329.8" y="35.0">Glide</text>
<path d="M291.8 45.2 h35.6" stroke="#7E2F8E" stroke-width="2" fill="none"/>
<text x="329.8" y="50.0">Trot</text>
<path d="M362.4 30.2 h35.6" stroke="#77AC30" stroke-width="2" fill="none"/>
<text x="400.4" y="35.0">Hop</text>
<path d="M362.4 45.2 h35.6" stroke="#4DBEEE" stroke-width="2" fill="none"/>
<text x="400.4" y="50.0">Single-Hop</text>
<path d="M462.2 30.2 h35.6" stroke="#A2142F" stroke-width="2" fill="none"/>
<text x="500.2" y="35.0">Jump</text>
</g>
</svg>
</body></html>
